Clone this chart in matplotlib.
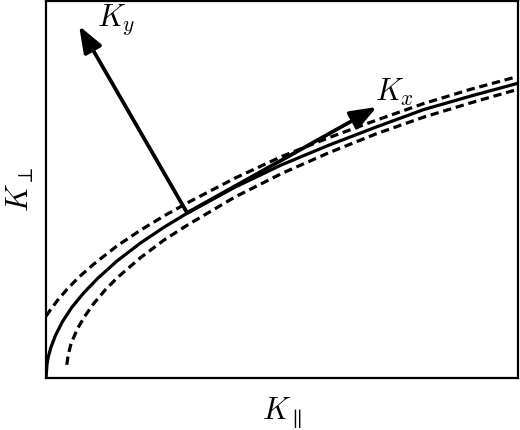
# sketch of the dispersion surface with local K_x / K_y frame
import matplotlib.pyplot as plt

plt.rcParams['mathtext.fontset'] = 'cm'

# central (solid) curve, K_par vs K_perp in axis units
k_par_mid = [0.000, 0.002, 0.005, 0.010, 0.020, 0.035, 0.055, 0.080, 0.110, 0.150,
             0.200, 0.250, 0.300, 0.400, 0.500, 0.600, 0.700, 0.800, 0.900, 1.000]
k_perp_mid = [0.000, 0.036, 0.057, 0.080, 0.113, 0.150, 0.188, 0.226, 0.265, 0.310,
              0.358, 0.400, 0.438, 0.506, 0.566, 0.618, 0.666, 0.712, 0.748, 0.782]

# upper dashed curve
k_par_up = [0.000, 0.010, 0.025, 0.045, 0.070, 0.100, 0.150, 0.200, 0.250, 0.300,
            0.400, 0.500, 0.600, 0.700, 0.800, 0.900, 1.000]
k_perp_up = [0.164, 0.182, 0.207, 0.236, 0.268, 0.301, 0.350, 0.392, 0.430, 0.465,
             0.530, 0.588, 0.638, 0.684, 0.728, 0.766, 0.800]

# lower dashed curve
k_par_lo = [0.044, 0.047, 0.053, 0.066, 0.080, 0.100, 0.125, 0.150, 0.200, 0.250,
            0.300, 0.400, 0.500, 0.600, 0.700, 0.800, 0.900, 1.000]
k_perp_lo = [0.035, 0.062, 0.091, 0.129, 0.160, 0.196, 0.233, 0.265, 0.319, 0.366,
             0.406, 0.480, 0.543, 0.598, 0.648, 0.692, 0.730, 0.766]

# local frame: origin on the curve, tips of the two arrows
origin = (0.299, 0.438)
kx_tip = (0.701, 0.719)
ky_tip = (0.070, 0.934)
kx_label = r'$K_x$'
ky_label = r'$K_y$'

fig = plt.figure(figsize=(5.2, 4.3), dpi=100)
ax = fig.add_axes([0.0885, 0.1209, 0.9077, 0.8767])

ax.plot(k_par_mid, k_perp_mid, color='black', lw=2.3, solid_capstyle='butt')
ax.plot(k_par_up, k_perp_up, color='black', lw=2.3, linestyle=(0, (2.6, 1.5)))
ax.plot(k_par_lo, k_perp_lo, color='black', lw=2.3, linestyle=(0, (2.6, 1.5)))

arrow = dict(arrowstyle='-|>,head_length=0.8,head_width=0.3', color='black',
             lw=2.7, mutation_scale=20, shrinkA=0, shrinkB=0)
ax.annotate('', xy=kx_tip, xytext=origin, arrowprops=arrow)
ax.annotate('', xy=ky_tip, xytext=origin, arrowprops=arrow)

ax.text(0.697, 0.758, kx_label, fontsize=22, ha='left', va='center')
ax.text(0.108, 0.950, ky_label, fontsize=22, ha='left', va='center')

ax.set_xlim(0, 1)
ax.set_ylim(0, 1)
ax.set_xticks([])
ax.set_yticks([])
for s in ax.spines.values():
    s.set_linewidth(1.6)

ax.set_xlabel(r'$K_\parallel$', fontsize=22)
ax.set_ylabel(r'$K_\perp$', fontsize=22)
ax.xaxis.set_label_coords(0.5, -0.045)
ax.yaxis.set_label_coords(-0.022, 0.5)

plt.savefig('out.png', dpi=100)
